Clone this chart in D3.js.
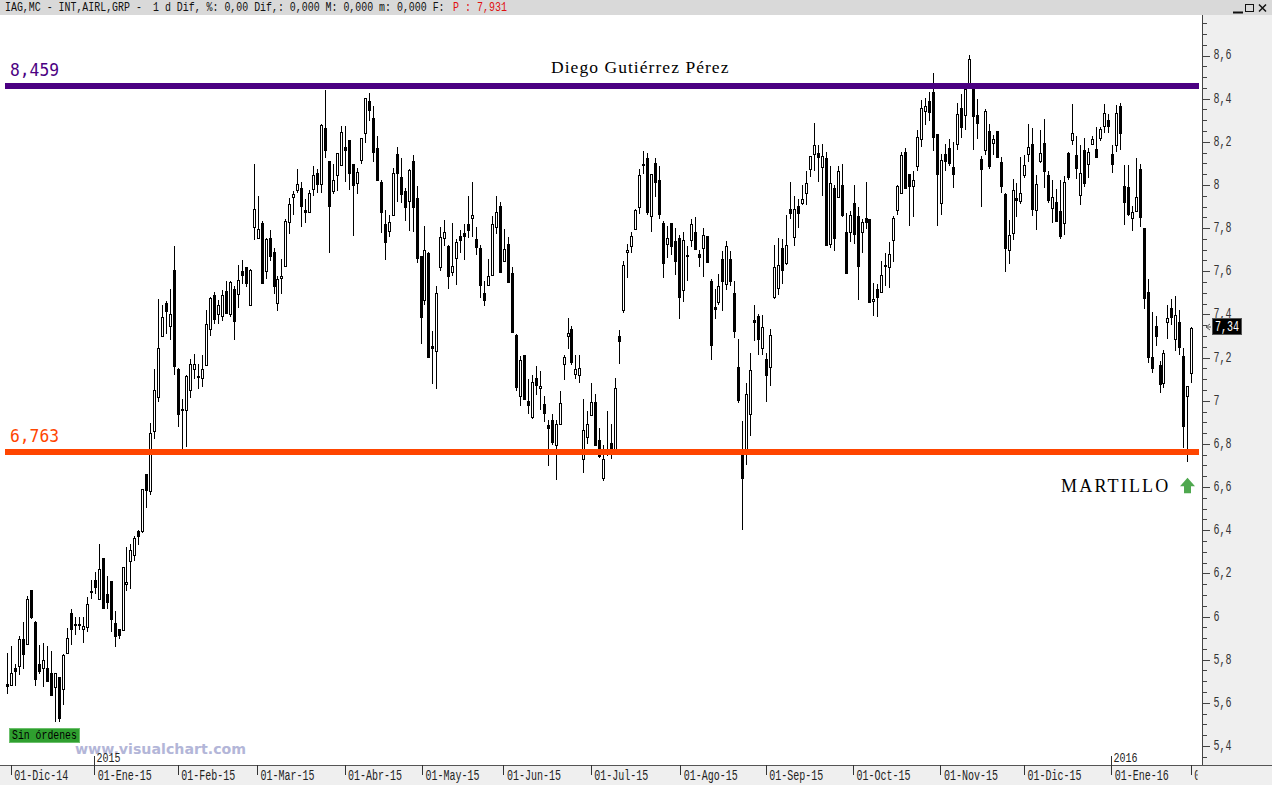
<!DOCTYPE html>
<html>
<head>
<meta charset="utf-8">
<title>IAG,MC</title>
<script src="https://cdn.jsdelivr.net/npm/d3@7"></script>
<style>
  html, body { margin: 0; padding: 0; background: #fff; overflow: hidden; }
  svg { display: block; }
  .mono { font-family: "Liberation Mono", "DejaVu Sans Mono", monospace; }
</style>
</head>
<body>
<svg id="chart" width="1272" height="785"></svg>
<script>
// Daily candles
var opens = [
  5.686,5.683,5.760,5.771,5.895,5.875,6.122,5.976,5.779,5.762,
  5.760,5.740,5.674,5.719,5.666,5.833,6.018,5.964,5.964,5.942,
  5.952,6.117,6.171,6.081,6.270,6.103,6.163,5.972,5.941,5.936,
  6.152,6.257,6.287,6.398,6.398,6.662,6.582,6.860,7.017,7.300,
  7.451,7.346,7.604,7.145,6.960,6.957,7.050,7.147,7.113,7.105,
  7.165,7.332,7.488,7.402,7.392,7.507,7.402,7.516,7.494,7.602,
  7.618,7.443,7.806,7.754,7.822,7.601,7.755,7.690,7.453,7.568,
  7.624,7.828,7.944,7.976,7.987,7.885,7.874,7.981,8.056,8.004,
  8.266,8.109,7.971,8.045,8.092,8.178,8.209,8.095,8.008,8.117,
  8.240,8.391,8.311,8.172,8.012,7.817,7.786,7.862,8.144,8.038,
  7.973,7.925,8.113,7.941,7.669,7.467,7.683,7.255,7.232,7.621,
  7.755,7.718,7.596,7.663,7.764,7.778,7.820,7.848,7.751,7.710,
  7.500,7.538,7.582,7.806,7.903,7.649,7.727,7.593,7.306,7.022,
  7.210,7.000,6.925,7.107,7.060,6.986,6.889,6.912,6.795,6.894,
  7.170,7.300,7.334,7.124,7.119,6.732,6.832,6.936,6.992,6.816,
  6.644,6.778,6.802,6.763,7.299,7.421,7.689,7.719,7.796,7.898,
  8.096,8.126,7.856,8.100,8.024,7.822,7.726,7.825,7.742,7.756,
  7.513,7.674,7.747,7.784,7.679,7.708,7.762,7.554,7.433,7.458,
  7.659,7.541,7.659,7.501,7.158,6.778,6.778,6.939,7.373,7.391,
  7.245,7.195,7.157,7.481,7.523,7.706,7.638,7.887,7.759,7.904,
  7.916,7.962,8.073,8.143,8.146,8.083,8.126,7.726,7.987,7.944,
  8.001,7.783,7.782,7.917,7.857,7.782,7.848,7.840,7.462,7.516,
  7.504,7.629,7.619,7.744,7.883,7.965,8.154,8.052,7.995,8.087,
  8.214,8.342,8.390,8.433,8.234,7.916,8.144,8.172,8.084,8.189,
  8.357,8.323,8.469,8.444,8.325,8.121,8.163,8.251,8.194,8.251,
  8.107,7.959,7.700,7.777,7.938,7.925,8.046,8.145,8.191,7.884,
  8.109,8.196,8.047,7.895,7.922,7.881,7.825,8.149,8.208,8.140,
  7.955,8.163,8.098,8.191,8.168,8.219,8.273,8.299,8.145,8.185,
  8.367,7.996,7.992,7.847,7.879,8.075,7.799,7.505,7.204,7.348,
  7.167,7.082,7.365,7.431,7.288,7.366,7.209,7.024,7.130
];
var highs = [
  5.833,5.862,5.782,5.908,5.973,6.095,6.122,5.980,5.867,5.879,
  5.862,5.841,5.740,5.719,5.825,5.949,6.034,5.998,5.998,5.998,
  6.091,6.171,6.206,6.338,6.270,6.188,6.163,6.026,5.941,6.230,
  6.322,6.338,6.373,6.399,6.592,6.662,6.898,7.145,7.473,7.442,
  7.460,7.519,7.715,7.153,7.006,7.118,7.195,7.215,7.172,7.213,
  7.419,7.480,7.502,7.465,7.511,7.555,7.555,7.534,7.627,7.650,
  7.618,7.609,8.095,7.947,7.831,7.754,7.789,7.709,7.576,7.659,
  7.843,7.941,7.973,8.072,8.016,7.937,7.978,8.086,8.075,8.283,
  8.442,8.109,8.098,8.149,8.274,8.271,8.209,8.095,8.079,8.218,
  8.404,8.427,8.364,8.225,8.021,7.882,7.863,8.079,8.174,8.126,
  7.987,8.072,8.141,7.996,7.669,7.812,7.689,7.321,7.534,7.803,
  7.836,7.720,7.826,7.748,7.789,7.817,7.947,8.012,7.803,7.720,
  7.553,7.659,7.854,7.947,7.919,7.797,7.761,7.618,7.311,7.206,
  7.210,7.099,7.118,7.159,7.136,7.020,6.909,6.937,6.912,7.043,
  7.213,7.385,7.345,7.210,7.210,7.007,6.951,7.081,7.029,6.876,
  6.794,6.951,6.891,7.104,7.327,7.646,7.728,7.781,7.890,8.072,
  8.156,8.146,8.052,8.123,8.086,7.831,7.808,7.825,7.802,7.767,
  7.781,7.716,7.841,7.850,7.700,7.802,7.762,7.566,7.517,7.586,
  7.693,7.742,7.693,7.554,7.285,6.905,7.081,7.223,7.442,7.401,
  7.396,7.219,7.331,7.720,7.753,7.751,7.859,8.012,7.947,7.933,
  7.998,8.063,8.135,8.289,8.183,8.191,8.151,8.086,7.998,8.090,
  8.095,7.871,7.879,7.998,7.900,7.842,8.016,7.840,7.547,7.539,
  7.646,7.687,7.738,7.854,7.998,8.151,8.172,8.052,8.063,8.257,
  8.394,8.405,8.430,8.520,8.234,8.144,8.188,8.214,8.201,8.382,
  8.422,8.445,8.603,8.469,8.399,8.132,8.353,8.283,8.232,8.252,
  8.130,7.961,7.836,8.029,8.010,8.128,8.137,8.281,8.265,8.044,
  8.256,8.307,8.067,8.021,7.983,8.024,8.040,8.151,8.373,8.225,
  8.185,8.217,8.172,8.225,8.268,8.268,8.373,8.330,8.186,8.369,
  8.378,8.091,8.091,7.901,8.123,8.098,7.799,7.566,7.410,7.391,
  7.183,7.237,7.442,7.473,7.484,7.419,7.246,7.070,7.340
];
var lows = [
  5.640,5.683,5.678,5.728,5.759,5.871,5.987,5.677,5.732,5.674,
  5.697,5.631,5.512,5.512,5.589,5.833,5.870,5.915,5.939,5.878,
  5.929,6.081,6.106,6.081,6.040,6.034,5.929,5.859,5.898,5.933,
  6.118,6.128,6.257,6.332,6.387,6.503,6.563,6.821,6.992,7.300,
  7.311,7.280,7.118,6.878,6.762,6.786,7.011,7.101,7.053,7.064,
  7.165,7.298,7.357,7.354,7.369,7.406,7.388,7.280,7.428,7.539,
  7.525,7.437,7.743,7.754,7.545,7.564,7.646,7.493,7.416,7.493,
  7.624,7.771,7.859,7.965,7.805,7.826,7.874,7.947,7.962,7.962,
  8.123,7.684,7.956,7.970,8.092,8.016,7.979,7.763,7.956,8.095,
  8.194,8.296,8.106,8.022,7.777,7.650,7.758,7.862,7.920,7.916,
  7.832,7.786,7.781,7.638,7.261,7.443,7.202,7.077,7.054,7.599,
  7.717,7.516,7.578,7.536,7.684,7.650,7.754,7.758,7.675,7.474,
  7.437,7.538,7.582,7.772,7.596,7.649,7.550,7.318,7.045,6.976,
  7.008,6.937,6.915,7.025,6.955,6.901,6.696,6.793,6.631,6.894,
  7.094,7.238,7.164,7.099,7.082,6.666,6.799,6.936,6.789,6.735,
  6.627,6.745,6.729,6.763,7.169,7.407,7.567,7.685,7.791,7.864,
  8.049,7.859,7.781,7.944,7.841,7.567,7.660,7.674,7.581,7.378,
  7.456,7.555,7.711,7.702,7.618,7.572,7.643,7.188,7.378,7.442,
  7.415,7.512,7.530,7.290,6.988,6.400,6.701,6.836,7.276,7.211,
  7.211,6.993,7.067,7.470,7.489,7.540,7.628,7.841,7.716,7.801,
  7.905,7.905,8.039,8.064,8.012,7.947,7.721,7.710,7.694,7.944,
  7.851,7.592,7.734,7.727,7.465,7.683,7.794,7.457,7.391,7.388,
  7.504,7.534,7.522,7.641,7.859,7.962,7.987,7.808,7.851,8.063,
  8.178,8.280,8.296,8.157,7.808,7.859,8.067,8.086,7.988,8.161,
  8.218,8.257,8.469,8.160,8.215,7.896,8.141,8.072,8.141,8.126,
  7.962,7.596,7.632,7.743,7.851,7.910,8.032,8.106,7.854,7.790,
  8.101,7.986,7.916,7.823,7.833,7.748,7.766,8.024,8.183,8.029,
  7.905,7.990,8.032,8.183,8.125,8.203,8.240,8.242,8.055,8.155,
  8.163,7.813,7.854,7.786,7.876,7.805,7.425,7.175,7.129,7.252,
  7.036,7.059,7.285,7.349,7.229,7.214,6.781,6.716,7.082
];
var closes = [
  5.678,5.736,5.748,5.898,5.827,6.083,5.998,5.711,5.748,5.797,
  5.702,5.635,5.740,5.530,5.824,5.902,5.942,5.961,5.961,5.958,
  6.060,6.114,6.137,6.222,6.040,6.068,5.989,5.910,5.915,6.228,
  6.162,6.310,6.366,6.373,6.592,6.588,6.852,7.051,7.246,7.389,
  7.414,7.403,7.161,6.937,6.957,7.116,7.172,7.172,7.110,7.148,
  7.357,7.477,7.378,7.446,7.491,7.406,7.551,7.369,7.561,7.582,
  7.545,7.607,7.890,7.797,7.545,7.748,7.669,7.531,7.565,7.579,
  7.834,7.913,7.959,8.005,7.902,7.874,7.964,8.047,8.004,8.280,
  8.161,7.902,8.024,8.149,8.246,8.164,8.055,7.999,8.061,8.218,
  8.404,8.347,8.152,8.022,7.874,7.735,7.829,8.056,8.055,7.957,
  7.897,8.070,7.897,7.661,7.388,7.700,7.202,7.244,7.500,7.760,
  7.783,7.578,7.626,7.737,7.744,7.763,7.791,7.862,7.712,7.536,
  7.467,7.579,7.820,7.876,7.596,7.704,7.550,7.318,7.063,7.187,
  7.008,6.980,7.088,7.073,7.070,6.943,6.874,6.807,6.894,6.991,
  7.204,7.315,7.178,7.148,7.153,6.866,6.890,6.996,6.794,6.745,
  6.732,6.763,6.763,7.061,7.277,7.631,7.700,7.765,7.886,8.048,
  8.092,7.875,8.052,8.014,7.864,7.638,7.756,7.717,7.648,7.481,
  7.747,7.671,7.821,7.703,7.666,7.770,7.643,7.259,7.425,7.533,
  7.555,7.719,7.555,7.324,7.004,6.643,7.029,7.144,7.365,7.285,
  7.344,7.120,7.307,7.622,7.631,7.605,7.723,7.870,7.890,7.870,
  7.936,8.010,8.135,8.186,8.129,8.135,7.721,8.010,7.754,8.066,
  7.860,7.592,7.862,7.772,7.624,7.828,7.828,7.457,7.473,7.479,
  7.584,7.626,7.681,7.848,7.996,8.140,7.988,7.993,8.024,8.223,
  8.357,8.367,8.337,8.220,8.049,8.117,8.109,8.101,8.049,8.330,
  8.268,8.445,8.584,8.319,8.286,8.073,8.344,8.087,8.214,8.129,
  7.995,7.706,7.769,7.978,7.930,7.964,8.094,8.177,7.888,8.006,
  8.149,8.066,7.930,7.944,7.833,7.762,8.015,8.037,8.242,8.078,
  8.057,8.009,8.154,8.214,8.129,8.260,8.335,8.273,8.098,8.335,
  8.240,7.922,7.864,7.876,7.945,7.851,7.476,7.203,7.153,7.300,
  7.079,7.221,7.385,7.388,7.399,7.249,6.883,7.068,7.339
];

// Date ticks, as candle numbers
var monthIndexes = [1, 22, 43, 63, 85, 104.5, 125, 147, 169.5, 191, 213, 235, 256, 278, 298];
var monthLabels = ['01-Dic-14', '01-Ene-15', '01-Feb-15', '01-Mar-15', '01-Abr-15', '01-May-15',
  '01-Jun-15', '01-Jul-15', '01-Ago-15', '01-Sep-15', '01-Oct-15', '01-Nov-15',
  '01-Dic-15', '01-Ene-16', '01-Feb-16'];
var yearIndexes = [22, 278];
var yearLabels = ['2015', '2016'];

// Horizontal levels
var resistance = 8.459;
var support = 6.763;
var lastPrice = 7.34;

var width = 1272;
var height = 785;
var plotRight = 1202;
var plotBottom = 765;

var svg = d3.select('#chart');

var x = d3.scaleLinear().domain([0, opens.length - 1]).range([7.3, 1191.3]);
var y = d3.scaleLinear().domain([8.6, 5.4]).range([55.5, 746]);

function px(v) { return Math.round(v) + 0.5; }
function comma(v) { return String(v).replace('.', ','); }

// Narrow bitmap looking text: fixed width per character
function monoText(parent, str, tx, ty, size, color, charWidth) {
  return parent.append('text')
    .attr('class', 'mono')
    .attr('x', tx)
    .attr('y', ty)
    .attr('font-size', size)
    .attr('fill', color)
    .style('white-space', 'pre')
    .attr('textLength', str.length * (charWidth || 6))
    .attr('lengthAdjust', 'spacingAndGlyphs')
    .text(str);
}

//
// Panels
//
svg.append('rect').attr('width', width).attr('height', height).attr('fill', '#fff');
svg.append('rect').attr('x', plotRight).attr('y', 15).attr('width', width - plotRight).attr('height', height - 15).attr('fill', '#efefef');
svg.append('rect').attr('x', 0).attr('y', plotBottom).attr('width', width).attr('height', height - plotBottom).attr('fill', '#efefef');

//
// Candles
//
var candles = svg.append('g').attr('class', 'candles')
  .selectAll('g')
  .data(d3.range(opens.length))
  .enter().append('g');

candles.append('line')
  .attr('x1', function(i) { return px(x(i)); })
  .attr('x2', function(i) { return px(x(i)); })
  .attr('y1', function(i) { return Math.round(y(highs[i])); })
  .attr('y2', function(i) { return Math.round(y(lows[i])); })
  .attr('stroke', '#000')
  .attr('shape-rendering', 'crispEdges');

candles.append('rect')
  .attr('x', function(i) { return px(x(i)) - 1; })
  .attr('width', 2)
  .attr('y', function(i) { return px(y(Math.max(opens[i], closes[i]))); })
  .attr('height', function(i) {
    return Math.max(1, Math.round(y(Math.min(opens[i], closes[i]))) - Math.round(y(Math.max(opens[i], closes[i]))));
  })
  .attr('fill', function(i) { return closes[i] >= opens[i] ? '#fff' : '#000'; })
  .attr('stroke', '#000')
  .attr('shape-rendering', 'crispEdges');

//
// Levels
//
var levels = [
  { value: resistance, color: '#4b0082' },
  { value: support, color: '#ff4500' }
];
svg.append('g').attr('class', 'levels')
  .selectAll('rect')
  .data(levels)
  .enter().append('rect')
  .attr('x', 5)
  .attr('width', 1194)
  .attr('y', function(d) { return Math.round(y(d.value)) - 3; })
  .attr('height', 6)
  .attr('fill', function(d) { return d.color; });

levels.forEach(function(d) {
  monoText(svg, comma(d.value), 10, Math.round(y(d.value)) - 10, 18, d.color, 9.8)
    .attr('font-family', '"DejaVu Sans Mono", monospace')
    .attr('font-weight', 200)
    .attr('class', null);
});

//
// Annotations
//
svg.append('text')
  .attr('x', 551).attr('y', 73)
  .attr('font-family', '"Liberation Serif", serif')
  .attr('font-size', 17.5)
  .attr('letter-spacing', 1.05)
  .attr('fill', '#000')
  .text('Diego Gutiérrez Pérez');

svg.append('text')
  .attr('x', 1061).attr('y', 492)
  .attr('font-family', '"Liberation Serif", serif')
  .attr('font-size', 18)
  .attr('letter-spacing', 2.2)
  .attr('fill', '#000')
  .text('MARTILLO');

// Arrow under the hammer candle, placed on the price scale
var arrowX = 1187.5;
svg.append('path')
  .attr('d', d3.line()([
    [arrowX, y(6.643)], [arrowX + 7.5, y(6.604)], [arrowX + 3.5, y(6.604)],
    [arrowX + 3.5, y(6.571)], [arrowX - 3.5, y(6.571)], [arrowX - 3.5, y(6.604)],
    [arrowX - 7.5, y(6.604)]
  ]) + 'Z')
  .attr('fill', '#4fa84f');

// "Sin ordenes" badge
svg.append('rect')
  .attr('x', 9.5).attr('y', 728.5).attr('width', 70).attr('height', 14)
  .attr('fill', '#2f9f2f').attr('stroke', '#6cc06c');
monoText(svg, 'Sin órdenes', 12, 739, 12, '#000', 5.9);

svg.append('text')
  .attr('x', 75).attr('y', 754)
  .attr('font-family', '"DejaVu Sans", sans-serif')
  .attr('font-weight', 'bold')
  .attr('font-size', 14.2)
  .attr('fill', '#b3b6d8')
  .text('www.visualchart.com');

//
// Price axis
//
var priceTicks = d3.range(5.35, 8.76, 0.05).map(function(v) { return +v.toFixed(2); });
function isMajor(v) { return Math.abs(v * 5 - Math.round(v * 5)) < 1e-6 && v >= 5.4 && v <= 8.6; }

var yAxis = svg.append('g')
  .attr('transform', 'translate(' + (plotRight + 0.5) + ',0)')
  .call(d3.axisRight(y).tickValues(priceTicks).tickSize(3)
    .tickFormat(function(v) { return isMajor(v) ? comma(+v.toFixed(1)) : ''; }));

yAxis.select('.domain').remove();
yAxis.selectAll('.tick line')
  .attr('stroke', '#444')
  .attr('shape-rendering', 'crispEdges')
  .attr('x2', function(v) { return isMajor(v) ? 7 : 4; });
yAxis.selectAll('.tick text')
  .attr('class', 'mono')
  .attr('x', 11)
  .attr('y', -1)
  .attr('font-size', 14)
  .attr('font-family', '"Liberation Mono", monospace')
  .attr('fill', '#333')
  .attr('textLength', function(v) { return comma(+v.toFixed(1)).length * 6; })
  .attr('lengthAdjust', 'spacingAndGlyphs');

svg.append('line')
  .attr('x1', plotRight + 0.5).attr('x2', plotRight + 0.5)
  .attr('y1', 15).attr('y2', plotBottom)
  .attr('stroke', '#444');
svg.append('line')
  .attr('x1', 0).attr('x2', width)
  .attr('y1', plotBottom + 0.5).attr('y2', plotBottom + 0.5)
  .attr('stroke', '#555');

// Last price marker
var lastY = Math.round(y(lastPrice));
svg.append('path')
  .attr('d', d3.line()([[plotRight + 8, lastY - 3], [plotRight + 4, lastY], [plotRight + 8, lastY + 3]])
    + 'M' + (plotRight + 4) + ',' + lastY + 'H' + (plotRight + 9))
  .attr('fill', 'none')
  .attr('stroke', '#555');
svg.append('rect')
  .attr('x', 1212.5).attr('y', lastY - 8.5).attr('width', 29).attr('height', 16)
  .attr('fill', '#000').attr('stroke', '#555');
monoText(svg, comma(lastPrice), 1215, lastY + 4, 14, '#fff', 6);

//
// Date axis
//
svg.append('defs').append('clipPath').attr('id', 'dateClip')
  .append('rect').attr('x', 0).attr('y', 0).attr('width', 1198).attr('height', 20);

var xAxis = svg.append('g')
  .attr('clip-path', 'url(#dateClip)')
  .attr('transform', 'translate(-0.5,' + plotBottom + ')')
  .call(d3.axisBottom(x).tickValues(monthIndexes).tickSize(10)
    .tickFormat(function(d, i) { return monthLabels[i]; }));

xAxis.select('.domain').remove();
xAxis.selectAll('.tick line')
  .attr('stroke', '#333')
  .attr('shape-rendering', 'crispEdges');
xAxis.selectAll('.tick text')
  .attr('class', 'mono')
  .attr('text-anchor', 'start')
  .attr('x', 3)
  .attr('y', 15)
  .attr('dy', 0)
  .attr('font-size', 14)
  .attr('font-family', '"Liberation Mono", monospace')
  .attr('fill', '#222')
  .attr('textLength', 54)
  .attr('lengthAdjust', 'spacingAndGlyphs');

// Year markers stand above the axis
yearIndexes.forEach(function(idx, k) {
  var tx = px(x(idx) - 0.5);
  svg.append('line')
    .attr('x1', tx).attr('x2', tx)
    .attr('y1', 756).attr('y2', plotBottom)
    .attr('stroke', '#333');
  monoText(svg, yearLabels[k], tx + 2, 762, 13, '#222', 6);
});

//
// Title bar
//
svg.append('rect').attr('width', width).attr('height', 15).attr('fill', '#d9d9d9');
monoText(svg, 'IAG,MC - INT,AIRL,GRP -', 5, 11, 12.5, '#111', 5.95);
monoText(svg, '1 d Dif, %: 0,00 Dif,: 0,000 M: 0,000 m: 0,000 F:', 153, 11, 12.5, '#111', 5.95);
monoText(svg, 'P : 7,931', 453, 11, 12.5, '#e01010', 6);

// Window buttons
var buttons = svg.append('g').attr('stroke', '#111').attr('fill', 'none');
buttons.append('path').attr('d', 'M1233,12.5H1243').attr('stroke-width', 2);
buttons.append('rect').attr('x', 1245.5).attr('y', 4.5).attr('width', 8).attr('height', 7);
buttons.append('path').attr('d', 'M1259,4.5L1266,11.5M1266,4.5L1259,11.5').attr('stroke-width', 1.5);
</script>
</body>
</html>
